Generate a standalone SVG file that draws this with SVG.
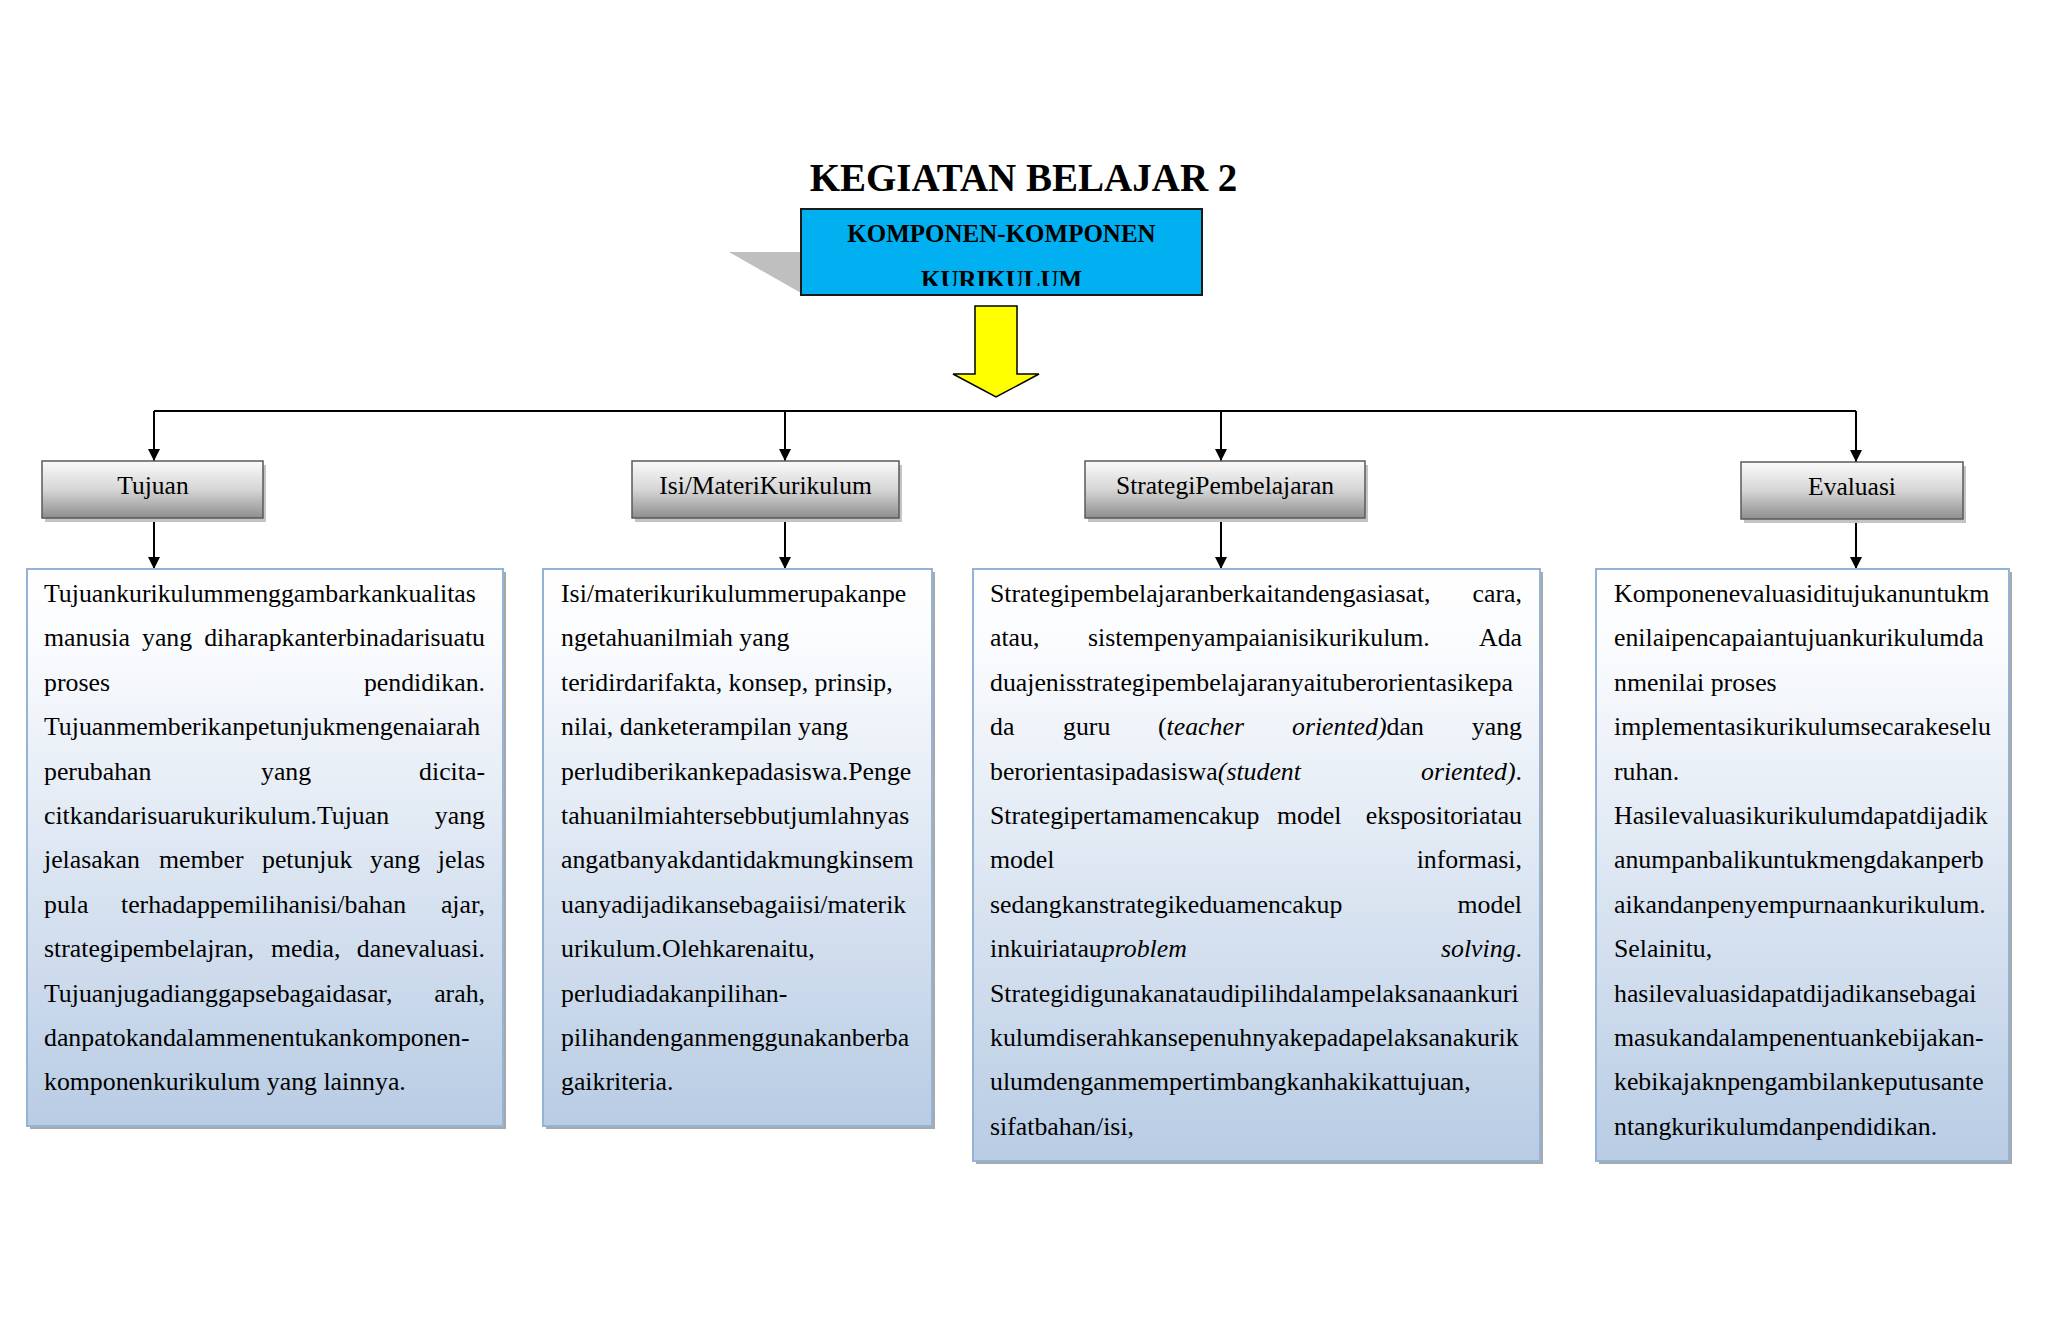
<svg xmlns="http://www.w3.org/2000/svg" width="2048" height="1317" viewBox="0 0 2048 1317">
<style>
.t{font-family:"Liberation Serif","Times New Roman",serif;font-size:25.8px;fill:#000}
.e{text-anchor:end}
.i{font-style:italic}
.h{font-family:"Liberation Serif","Times New Roman",serif;font-size:25.5px;fill:#000;text-anchor:middle}
.b{font-family:"Liberation Serif","Times New Roman",serif;font-weight:bold;fill:#000;text-anchor:middle}
.hdr{fill:url(#gGray);stroke:#5a5a5a;stroke-width:1.5}
.hsh{fill:#c4c4c4}
.box{fill:url(#gBlue);stroke:#95b3d7;stroke-width:2}
.bsh{fill:#a9a9a9}
.c{fill:none;stroke:#000;stroke-width:2}
</style>
<defs>
<linearGradient id="gGray" x1="0" y1="0" x2="0" y2="1">
<stop offset="0" stop-color="#fafafa"/>
<stop offset="0.5" stop-color="#d6d6d6"/>
<stop offset="1" stop-color="#8e8e8e"/>
</linearGradient>
<linearGradient id="gBlue" x1="0" y1="0" x2="0" y2="1">
<stop offset="0" stop-color="#ffffff"/>
<stop offset="0.12" stop-color="#fbfcfe"/>
<stop offset="1" stop-color="#b8cce4"/>
</linearGradient>
<marker id="ah" markerUnits="userSpaceOnUse" viewBox="0 0 12 12" markerWidth="12" markerHeight="12" refX="12" refY="6" orient="auto">
<path d="M0,0 L12,6 L0,12 z" fill="#000"/>
</marker>
<clipPath id="kclip"><rect x="801" y="209" width="401" height="77"/></clipPath>
</defs>
<rect width="2048" height="1317" fill="#fff"/>

<g id="title">
<text class="b" x="1023.5" y="191" font-size="39">KEGIATAN BELAJAR 2</text>
</g>

<g id="main-node">
<polygon points="729,252 801,252 801,293" fill="#bfbfbf"/>
<rect x="801" y="209" width="401" height="86" fill="#00b0f0" stroke="#1a1a1a" stroke-width="2"/>
<text class="b" x="1001.5" y="242" font-size="25">KOMPONEN-KOMPONEN</text>
<text class="b" x="1001.5" y="288" font-size="25" clip-path="url(#kclip)">KURIKULUM</text>
</g>

<g id="yellow-arrow">
<polygon points="975,306 1017,306 1017,374 1039,374 996,397 953,374 975,374" fill="#ffff00" stroke="#000" stroke-width="1.5"/>
</g>

<g id="connectors">
<path class="c" d="M154,411 H1856"/>
<path class="c" d="M154,411 V461" marker-end="url(#ah)"/>
<path class="c" d="M785,411 V461" marker-end="url(#ah)"/>
<path class="c" d="M1221,411 V461" marker-end="url(#ah)"/>
<path class="c" d="M1856,411 V462" marker-end="url(#ah)"/>
<path class="c" d="M154,518 V569" marker-end="url(#ah)"/>
<path class="c" d="M785,518 V569" marker-end="url(#ah)"/>
<path class="c" d="M1221,518 V569" marker-end="url(#ah)"/>
<path class="c" d="M1856,519 V569" marker-end="url(#ah)"/>
</g>

<g id="node-tujuan">
<rect class="hsh" x="45" y="465" width="221" height="57"/>
<rect class="hdr" x="42" y="461" width="221" height="57"/>
<text class="h" x="153" y="494">Tujuan</text>
</g>
<g id="node-isi">
<rect class="hsh" x="635" y="465" width="267" height="57"/>
<rect class="hdr" x="632" y="461" width="267" height="57"/>
<text class="h" x="765.5" y="494">Isi/MateriKurikulum</text>
</g>
<g id="node-strategi">
<rect class="hsh" x="1088" y="465" width="280" height="57"/>
<rect class="hdr" x="1085" y="461" width="280" height="57"/>
<text class="h" x="1225" y="494">StrategiPembelajaran</text>
</g>
<g id="node-evaluasi">
<rect class="hsh" x="1744" y="466" width="222" height="57"/>
<rect class="hdr" x="1741" y="462" width="222" height="57"/>
<text class="h" x="1852" y="495">Evaluasi</text>
</g>

<g id="text-tujuan">
<rect class="bsh" x="30" y="572" width="476" height="557"/>
<rect class="box" x="27" y="569" width="476" height="557"/>
<text class="t" x="44" y="602">Tujuankurikulummenggambarkankualitas</text>
<text class="t" y="646.4"><tspan x="44">manusia</tspan><tspan x="142">yang</tspan></text>
<text class="t e" x="485" y="646.4">diharapkanterbinadarisuatu</text>
<text class="t" x="44" y="690.8">proses</text>
<text class="t e" x="485" y="690.8">pendidikan.</text>
<text class="t" x="44" y="735.2">Tujuanmemberikanpetunjukmengenaiarah</text>
<text class="t" y="779.6"><tspan x="44">perubahan</tspan><tspan x="261">yang</tspan></text>
<text class="t e" x="485" y="779.6">dicita-</text>
<text class="t" x="44" y="824">citkandarisuarukurikulum.Tujuan</text>
<text class="t e" x="485" y="824">yang</text>
<text class="t" y="868.4"><tspan x="44">jelasakan</tspan><tspan x="159">member</tspan><tspan x="262">petunjuk</tspan><tspan x="370">yang</tspan></text>
<text class="t e" x="485" y="868.4">jelas</text>
<text class="t" y="912.8"><tspan x="44">pula</tspan><tspan x="121">terhadappemilihanisi/bahan</tspan></text>
<text class="t e" x="485" y="912.8">ajar,</text>
<text class="t" y="957.2"><tspan x="44">strategipembelajran,</tspan><tspan x="271">media,</tspan></text>
<text class="t e" x="485" y="957.2">danevaluasi.</text>
<text class="t" x="44" y="1001.6">Tujuanjugadianggapsebagaidasar,</text>
<text class="t e" x="485" y="1001.6">arah,</text>
<text class="t" x="44" y="1046">danpatokandalammenentukankomponen-</text>
<text class="t" x="44" y="1090.4">komponenkurikulum yang lainnya.</text>
</g>

<g id="text-isi">
<rect class="bsh" x="546" y="572" width="389" height="557"/>
<rect class="box" x="543" y="569" width="389" height="557"/>
<text class="t" x="561" y="602">Isi/materikurikulummerupakanpe</text>
<text class="t" x="561" y="646.4">ngetahuanilmiah yang</text>
<text class="t" x="561" y="690.8">teridirdarifakta, konsep, prinsip,</text>
<text class="t" x="561" y="735.2">nilai, danketerampilan yang</text>
<text class="t" x="561" y="779.6">perludiberikankepadasiswa.Penge</text>
<text class="t" x="561" y="824">tahuanilmiahtersebbutjumlahnyas</text>
<text class="t" x="561" y="868.4">angatbanyakdantidakmungkinsem</text>
<text class="t" x="561" y="912.8">uanyadijadikansebagaiisi/materik</text>
<text class="t" x="561" y="957.2">urikulum.Olehkarenaitu,</text>
<text class="t" x="561" y="1001.6">perludiadakanpilihan-</text>
<text class="t" x="561" y="1046">pilihandenganmenggunakanberba</text>
<text class="t" x="561" y="1090.4">gaikriteria.</text>
</g>

<g id="text-strategi">
<rect class="bsh" x="976" y="572" width="567" height="592"/>
<rect class="box" x="973" y="569" width="567" height="592"/>
<text class="t" x="990" y="602">Strategipembelajaranberkaitandengasiasat,</text>
<text class="t e" x="1522" y="602">cara,</text>
<text class="t" y="646.4"><tspan x="990">atau,</tspan><tspan x="1088">sistempenyampaianisikurikulum.</tspan></text>
<text class="t e" x="1522" y="646.4">Ada</text>
<text class="t" x="990" y="690.8">duajenisstrategipembelajaranyaituberorientasikepa</text>
<text class="t" y="735.2"><tspan x="990">da</tspan><tspan x="1063">guru</tspan><tspan x="1158">(</tspan><tspan class="i">teacher</tspan><tspan x="1292" class="i">oriented)</tspan><tspan>dan</tspan></text>
<text class="t e" x="1522" y="735.2">yang</text>
<text class="t" x="990" y="779.6">berorientasipadasiswa<tspan class="i">(student</tspan></text>
<text class="t e" x="1522" y="779.6"><tspan class="i">oriented)</tspan>.</text>
<text class="t" y="824"><tspan x="990">Strategipertamamencakup</tspan><tspan x="1277">model</tspan></text>
<text class="t e" x="1522" y="824">ekspositoriatau</text>
<text class="t" x="990" y="868.4">model</text>
<text class="t e" x="1522" y="868.4">informasi,</text>
<text class="t" x="990" y="912.8">sedangkanstrategikeduamencakup</text>
<text class="t e" x="1522" y="912.8">model</text>
<text class="t" x="990" y="957.2">inkuiriatau<tspan class="i">problem</tspan></text>
<text class="t e" x="1522" y="957.2"><tspan class="i">solving</tspan>.</text>
<text class="t" x="990" y="1001.6">Strategidigunakanataudipilihdalampelaksanaankuri</text>
<text class="t" x="990" y="1046">kulumdiserahkansepenuhnyakepadapelaksanakurik</text>
<text class="t" x="990" y="1090.4">ulumdenganmempertimbangkanhakikattujuan,</text>
<text class="t" x="990" y="1134.8">sifatbahan/isi,</text>
</g>

<g id="text-evaluasi">
<rect class="bsh" x="1599" y="572" width="413" height="592"/>
<rect class="box" x="1596" y="569" width="413" height="592"/>
<text class="t" x="1614" y="602">Komponenevaluasiditujukanuntukm</text>
<text class="t" x="1614" y="646.4">enilaipencapaiantujuankurikulumda</text>
<text class="t" x="1614" y="690.8">nmenilai proses</text>
<text class="t" x="1614" y="735.2">implementasikurikulumsecarakeselu</text>
<text class="t" x="1614" y="779.6">ruhan.</text>
<text class="t" x="1614" y="824">Hasilevaluasikurikulumdapatdijadik</text>
<text class="t" x="1614" y="868.4">anumpanbalikuntukmengdakanperb</text>
<text class="t" x="1614" y="912.8">aikandanpenyempurnaankurikulum.</text>
<text class="t" x="1614" y="957.2">Selainitu,</text>
<text class="t" x="1614" y="1001.6">hasilevaluasidapatdijadikansebagai</text>
<text class="t" x="1614" y="1046">masukandalampenentuankebijakan-</text>
<text class="t" x="1614" y="1090.4">kebikajaknpengambilankeputusante</text>
<text class="t" x="1614" y="1134.8">ntangkurikulumdanpendidikan.</text>
</g>
</svg>
